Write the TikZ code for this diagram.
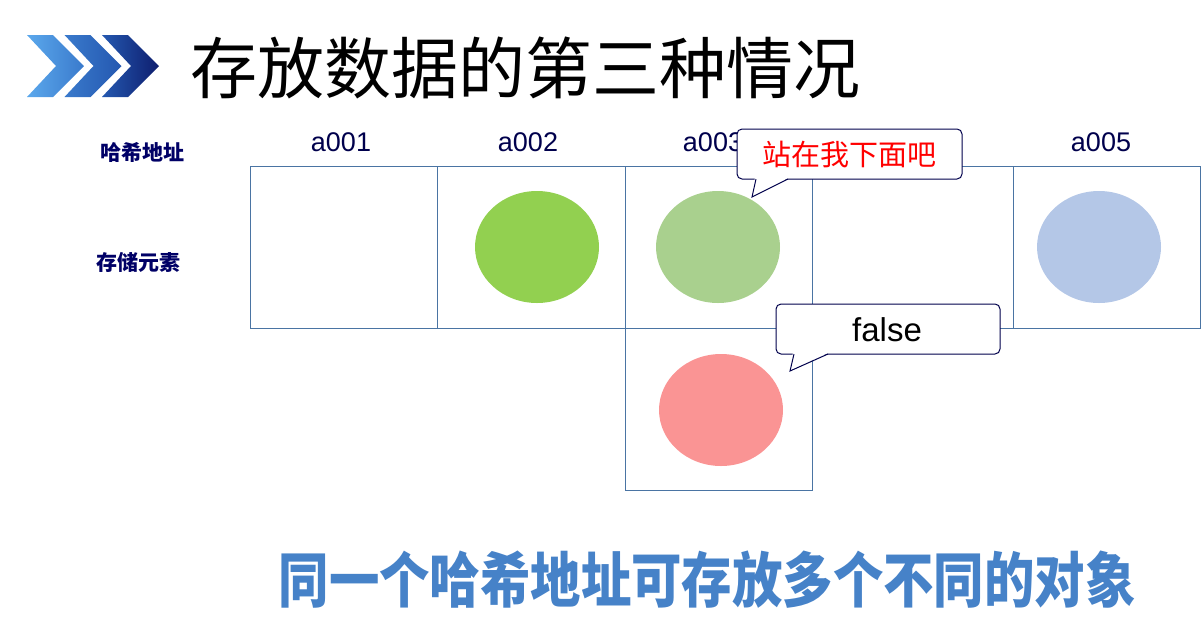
\documentclass[tikz,border=0pt]{standalone}
\usepackage{fontspec}
\newfontfamily\cjk{Noto Sans CJK SC}
\setmainfont{Liberation Sans}
\begin{document}
\begin{tikzpicture}[x=1pt,y=-1pt,
  callout/.style={draw=black!70!blue, fill=white, line width=1pt, rounded corners=5pt},
  lbl/.style={font=\cjk\bfseries\fontsize{21}{24}\selectfont, text=blue!40!black},
  addr/.style={font=\fontsize{27}{30}\selectfont, text=blue!30!black}]
\definecolor{cellc}{HTML}{4A74A3}
\useasboundingbox (0,0) rectangle (1201,643);
% chevrons
\foreach \i/\ca/\cb in {0/5BA8EC/3A7ACC,1/3A7ACC/2458B0,2/2458B0/0E1E6E}{
  \definecolor{ca}{HTML}{\ca}\definecolor{cb}{HTML}{\cb}
  \shade[left color=ca,right color=cb] ({27+\i*37.5},35) -- ({53+\i*37.5},35) -- ({84+\i*37.5},66) -- ({53+\i*37.5},97) -- ({27+\i*37.5},97) -- ({56+\i*37.5},66) -- cycle;
}
\node[anchor=west, font=\cjk\fontsize{67}{72}\selectfont, inner sep=0] (title) at (190,68) {存放数据的第三种情况};
\node[lbl] (h1) at (142,152) {哈希地址};
\node[lbl] (h2) at (138,262) {存储元素};
\foreach \n/\x/\t in {a1/341/a001,a2/528/a002,a3/713/a003,a5/1101/a005}
  \node[addr] (\n) at (\x,142) {\t};
\foreach \a/\b in {250/437,437/625,625/812,812/1013,1013/1200}
  \draw[draw=cellc,line width=1pt] (\a,166) rectangle (\b,328);
\draw[draw=cellc,line width=1pt] (625,328) rectangle (812,490);
\fill[fill={rgb,255:red,146;green,208;blue,80}] (537,247) ellipse (62 and 56);
\fill[fill={rgb,255:red,169;green,208;blue,142}] (718,247) ellipse (62 and 56);
\fill[fill={rgb,255:red,180;green,199;blue,231}] (1099,247) ellipse (62 and 56);
\fill[fill={rgb,255:red,250;green,148;blue,148}] (721,410) ellipse (62 and 56);
% callouts
\draw[callout] (737,129) rectangle (962,179);
\fill[white] (755,177) -- (752,197) -- (790,177) -- cycle;
\draw[draw=black!70!blue,line width=1pt] (756,179) -- (752,197) -- (788,179);
\node[font=\cjk\fontsize{29}{32}\selectfont, text=red] (c1) at (849,155) {站在我下面吧};
\draw[callout] (776,304) rectangle (1000,354);
\fill[white] (793,352) -- (790,371) -- (830,352) -- cycle;
\draw[draw=black!70!blue,line width=1pt] (794,354) -- (790,371) -- (828,354);
\node[font=\fontsize{33}{36}\selectfont] (c2) at (887,330) {false};
% bottom
\node[font=\cjk\bfseries\fontsize{60}{66}\selectfont, text={rgb,255:red,70;green,130;blue,200}, xscale=0.84, inner sep=0] (bt) at (707,580) {同一个哈希地址可存放多个不同的对象};
\end{tikzpicture}
\end{document}
